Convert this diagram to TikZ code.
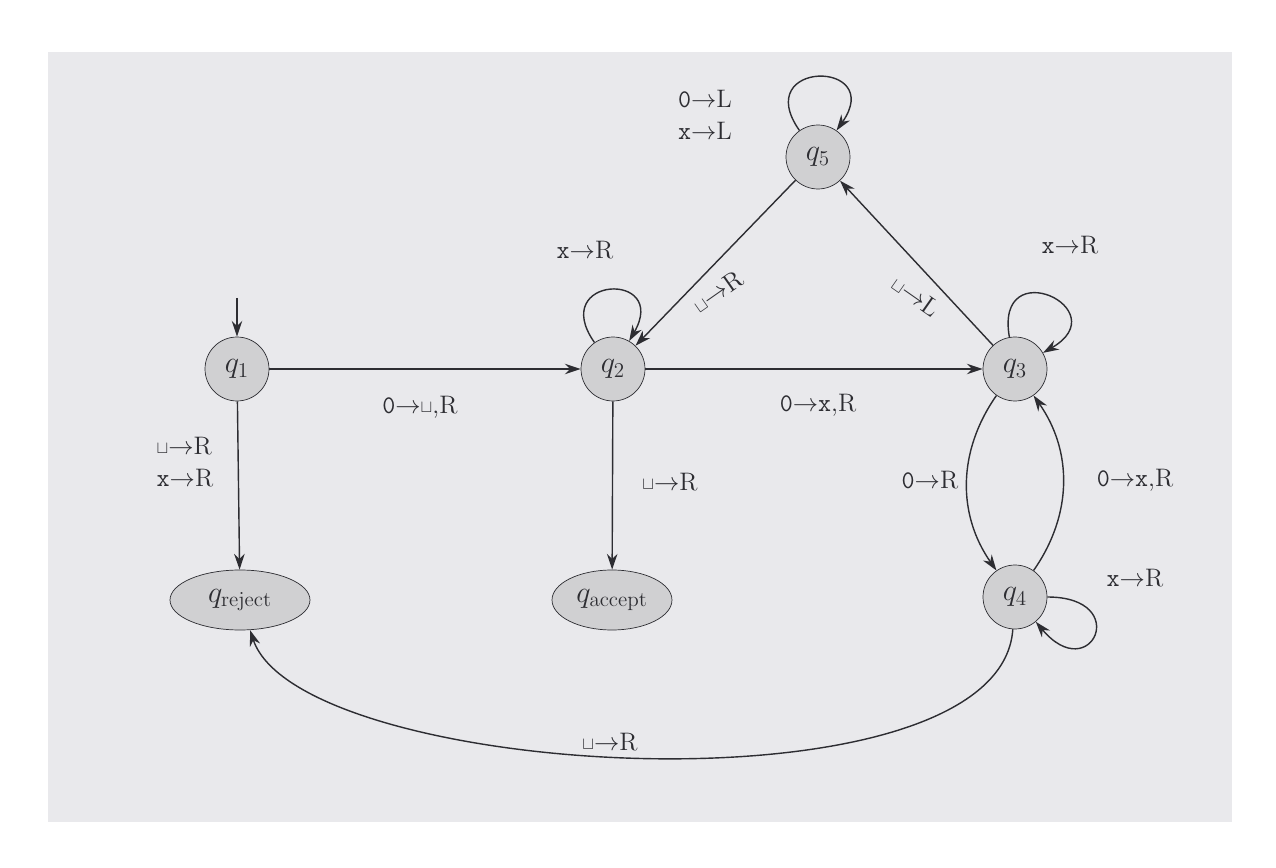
\documentclass[tikz,border=0pt]{standalone}
\usetikzlibrary{arrows.meta,shapes.geometric}
\definecolor{page}{RGB}{233,233,236}
\definecolor{st}{RGB}{208,208,210}
\definecolor{ink}{RGB}{45,45,50}
\newcommand{\bl}{\raisebox{0.1ex}{$\scriptstyle\sqcup$}}
\newcommand{\ar}{$\rightarrow$}
\begin{document}
\begin{tikzpicture}[x=0.02cm,y=-0.02cm,
  state/.style={circle,draw=ink,fill=st,minimum size=1.28cm,inner sep=0pt,font=\LARGE,text=ink},
  estate/.style={ellipse,draw=ink,fill=st,minimum height=1.2cm,inner sep=1pt,font=\LARGE,text=ink},
  edge/.style={draw=ink,-{Stealth[length=9pt,width=6pt]},thick},
  lab/.style={font=\Large,text=ink,align=left,inner sep=1pt}]
\useasboundingbox (0,0) rectangle (1276,868);
\fill[white] (0,0) rectangle (1276,868);
\fill[page] (48,52) rectangle (1232,822);
\node[state] (q1) at (237,369) {$q_1$};
\node[state] (q2) at (613,369) {$q_2$};
\node[state] (q3) at (1015,369) {$q_3$};
\node[state] (q5) at (818,157) {$q_5$};
\node[state] (q4) at (1015,597) {$q_4$};
\node[estate,minimum width=2.8cm] (qr) at (240,600) {$q_{\mathrm{reject}}$};
\node[estate,minimum width=2.4cm] (qa) at (612,600) {$q_{\mathrm{accept}}$};
\coordinate (s) at (237,298);
\draw[edge] (s) -- (q1);
\draw[edge] (q1) -- (q2);
\node[lab] at (420,407) {\texttt{0}\ar\bl,R};
\draw[edge] (q1) -- (qr);
\node[lab] at (185,462) {\bl\ar R\\\texttt{x}\ar R};
\draw[edge] (q2) to[out=125,in=60,looseness=6] (q2);
\node[lab] at (585,250) {\texttt{x}\ar R};
\draw[edge] (q2) -- (q3);
\node[lab] at (818,405) {\texttt{0}\ar\texttt{x},R};
\draw[edge] (q2) -- (qa);
\node[lab] at (670,482) {\bl\ar R};
\draw[edge] (q5) -- (q2);
\node[lab,rotate=35] at (718,292) {\bl\ar R};
\draw[edge] (q3) -- (q5);
\node[lab,rotate=-35] at (916,296) {\bl\ar L};
\draw[edge] (q5) to[out=125,in=55,looseness=6] (q5);
\node[lab] at (705,115) {\texttt{0}\ar L\\\texttt{x}\ar L};
\draw[edge] (q3) to[out=100,in=30,looseness=6] (q3);
\node[lab] at (1070,245) {\texttt{x}\ar R};
\draw[edge] (q3) to[bend right=35] (q4);
\node[lab] at (930,480) {\texttt{0}\ar R};
\draw[edge] (q4) to[bend right=35] (q3);
\node[lab] at (1135,480) {\texttt{0}\ar\texttt{x},R};
\draw[edge] (q4) to[out=0,in=-50,looseness=8] (q4);
\node[lab] at (1135,578) {\texttt{x}\ar R};
\draw[edge] (q4) .. controls (1000,820) and (300,780) .. (qr);
\node[lab] at (610,742) {\bl\ar R};
\end{tikzpicture}
\end{document}
